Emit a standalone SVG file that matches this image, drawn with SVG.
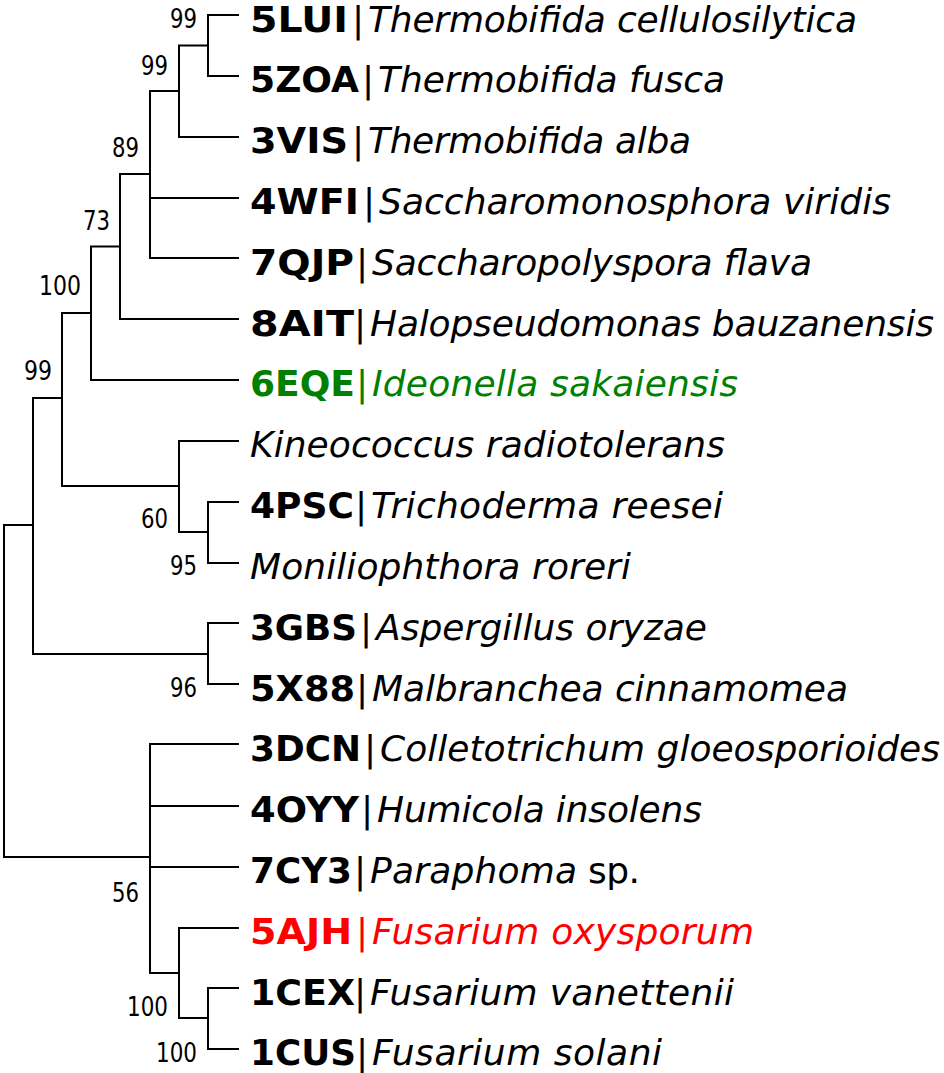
<svg xmlns="http://www.w3.org/2000/svg" width="944" height="1073" viewBox="0 0 944 1073">
<style>
.br{fill:none;stroke:#000;stroke-width:2;stroke-linecap:square}
.lf{font-family:"DejaVu Sans","Verdana",sans-serif;font-size:36px;fill:#000}
.id{font-weight:bold}
.sp{font-style:italic}
.pp{text-anchor:middle}
.bs{font-family:"DejaVu Sans","Verdana",sans-serif;font-size:27px;fill:#000;text-anchor:end}
.g{fill:#008000}
.r{fill:#ff0000}
</style>
<rect width="944" height="1073" fill="#fff"/>
<g id="connectors">
<path class="br" d="M208,15V76M208,15H238M208,76H238"/>
<path class="br" d="M179,45.5V137M179,45.5H208M179,137H238"/>
<path class="br" d="M150,91V258M150,91H179M150,198H238M150,258H238"/>
<path class="br" d="M120,174V319M120,174H150M120,319H238"/>
<path class="br" d="M91,246.5V380M91,246.5H120M91,380H238"/>
<path class="br" d="M208,502V563M208,502H238M208,563H238"/>
<path class="br" d="M179,441V532M179,441H238M179,532H208"/>
<path class="br" d="M62,313V486M62,313H91M62,486H179"/>
<path class="br" d="M208,623V684M208,623H238M208,684H238"/>
<path class="br" d="M33,398V654M33,398H62M33,654H208"/>
<path class="br" d="M208,988V1049M208,988H238M208,1049H238"/>
<path class="br" d="M179,928V1018M179,928H238M179,1018H208"/>
<path class="br" d="M150,744V973M150,744H238M150,806H238M150,867H238M150,973H179"/>
<path class="br" d="M4,525V857M4,525H33M4,857H150"/>
</g>
<g id="bootstrap">
<text id="bs-a" class="bs" x="197" y="28" textLength="27" lengthAdjust="spacingAndGlyphs">99</text>
<text id="bs-b" class="bs" x="168" y="75" textLength="27" lengthAdjust="spacingAndGlyphs">99</text>
<text id="bs-c" class="bs" x="139" y="157" textLength="27" lengthAdjust="spacingAndGlyphs">89</text>
<text id="bs-d" class="bs" x="110" y="230" textLength="27" lengthAdjust="spacingAndGlyphs">73</text>
<text id="bs-e" class="bs" x="81" y="295" textLength="42" lengthAdjust="spacingAndGlyphs">100</text>
<text id="bs-h" class="bs" x="52" y="380" textLength="28" lengthAdjust="spacingAndGlyphs">99</text>
<text id="bs-f" class="bs" x="168" y="528" textLength="27" lengthAdjust="spacingAndGlyphs">60</text>
<text id="bs-g" class="bs" x="197" y="575" textLength="27" lengthAdjust="spacingAndGlyphs">95</text>
<text id="bs-i" class="bs" x="197" y="697" textLength="27" lengthAdjust="spacingAndGlyphs">96</text>
<text id="bs-n" class="bs" x="139" y="902" textLength="27" lengthAdjust="spacingAndGlyphs">56</text>
<text id="bs-k" class="bs" x="168" y="1016" textLength="41" lengthAdjust="spacingAndGlyphs">100</text>
<text id="bs-m" class="bs" x="197" y="1062" textLength="41" lengthAdjust="spacingAndGlyphs">100</text>
</g>
<g id="leaf-5LUI" class="lf">
<text class="id" x="250" y="31.5" textLength="98" lengthAdjust="spacingAndGlyphs">5LUI</text><text class="pp" x="358" y="31.5">|</text><text class="sp" x="368" y="31.5" textLength="489">Thermobifida cellulosilytica</text></g>
<g id="leaf-5ZOA" class="lf">
<text class="id" x="250" y="92.3" textLength="109" lengthAdjust="spacingAndGlyphs">5ZOA</text><text class="pp" x="368" y="92.3">|</text><text class="sp" x="378" y="92.3" textLength="347">Thermobifida fusca</text></g>
<g id="leaf-3VIS" class="lf">
<text class="id" x="250" y="153.1" textLength="98" lengthAdjust="spacingAndGlyphs">3VIS</text><text class="pp" x="358" y="153.1">|</text><text class="sp" x="368" y="153.1" textLength="323">Thermobifida alba</text></g>
<g id="leaf-4WFI" class="lf">
<text class="id" x="250" y="214" textLength="109" lengthAdjust="spacingAndGlyphs">4WFI</text><text class="pp" x="369" y="214">|</text><text class="sp" x="379" y="214" textLength="512">Saccharomonosphora viridis</text></g>
<g id="leaf-7QJP" class="lf">
<text class="id" x="250" y="274.8" textLength="104" lengthAdjust="spacingAndGlyphs">7QJP</text><text class="pp" x="362" y="274.8">|</text><text class="sp" x="372" y="274.8" textLength="440">Saccharopolyspora flava</text></g>
<g id="leaf-8AIT" class="lf">
<text class="id" x="250" y="335.6" textLength="104" lengthAdjust="spacingAndGlyphs">8AIT</text><text class="pp" x="360" y="335.6">|</text><text class="sp" x="370" y="335.6" textLength="564">Halopseudomonas bauzanensis</text></g>
<g id="leaf-6EQE" class="lf g">
<text class="id" x="250" y="396.4" textLength="105" lengthAdjust="spacingAndGlyphs">6EQE</text><text class="pp" x="362" y="396.4">|</text><text class="sp" x="372" y="396.4" textLength="366">Ideonella sakaiensis</text></g>
<g id="leaf-kineococcus" class="lf">
<text class="sp" x="250" y="457.2" textLength="475">Kineococcus radiotolerans</text></g>
<g id="leaf-4PSC" class="lf">
<text class="id" x="250" y="518.1" textLength="104" lengthAdjust="spacingAndGlyphs">4PSC</text><text class="pp" x="361" y="518.1">|</text><text class="sp" x="371" y="518.1" textLength="352">Trichoderma reesei</text></g>
<g id="leaf-moniliophthora" class="lf">
<text class="sp" x="250" y="578.9" textLength="381">Moniliophthora roreri</text></g>
<g id="leaf-3GBS" class="lf">
<text class="id" x="250" y="639.7" textLength="107" lengthAdjust="spacingAndGlyphs">3GBS</text><text class="pp" x="366" y="639.7">|</text><text class="sp" x="376" y="639.7" textLength="331">Aspergillus oryzae</text></g>
<g id="leaf-5X88" class="lf">
<text class="id" x="250" y="700.5" textLength="105" lengthAdjust="spacingAndGlyphs">5X88</text><text class="pp" x="362" y="700.5">|</text><text class="sp" x="372" y="700.5" textLength="476">Malbranchea cinnamomea</text></g>
<g id="leaf-3DCN" class="lf">
<text class="id" x="250" y="761.3" textLength="111" lengthAdjust="spacingAndGlyphs">3DCN</text><text class="pp" x="370" y="761.3">|</text><text class="sp" x="380" y="761.3" textLength="560">Colletotrichum gloeosporioides</text></g>
<g id="leaf-4OYY" class="lf">
<text class="id" x="250" y="822.2" textLength="109" lengthAdjust="spacingAndGlyphs">4OYY</text><text class="pp" x="367" y="822.2">|</text><text class="sp" x="377" y="822.2" textLength="325">Humicola insolens</text></g>
<g id="leaf-7CY3" class="lf">
<text class="id" x="250" y="883" textLength="102" lengthAdjust="spacingAndGlyphs">7CY3</text><text class="pp" x="360" y="883">|</text><text class="sp" x="370" y="883" textLength="207">Paraphoma</text><text x="588" y="883" textLength="52">sp.</text></g>
<g id="leaf-5AJH" class="lf r">
<text class="id" x="250" y="943.8" textLength="102" lengthAdjust="spacingAndGlyphs">5AJH</text><text class="pp" x="362" y="943.8">|</text><text class="sp" x="372" y="943.8" textLength="382">Fusarium oxysporum</text></g>
<g id="leaf-1CEX" class="lf">
<text class="id" x="250" y="1004.6" textLength="105" lengthAdjust="spacingAndGlyphs">1CEX</text><text class="pp" x="360" y="1004.6">|</text><text class="sp" x="370" y="1004.6" textLength="364">Fusarium vanettenii</text></g>
<g id="leaf-1CUS" class="lf">
<text class="id" x="250" y="1065.4" textLength="106" lengthAdjust="spacingAndGlyphs">1CUS</text><text class="pp" x="362" y="1065.4">|</text><text class="sp" x="372" y="1065.4" textLength="290">Fusarium solani</text></g>
</svg>
